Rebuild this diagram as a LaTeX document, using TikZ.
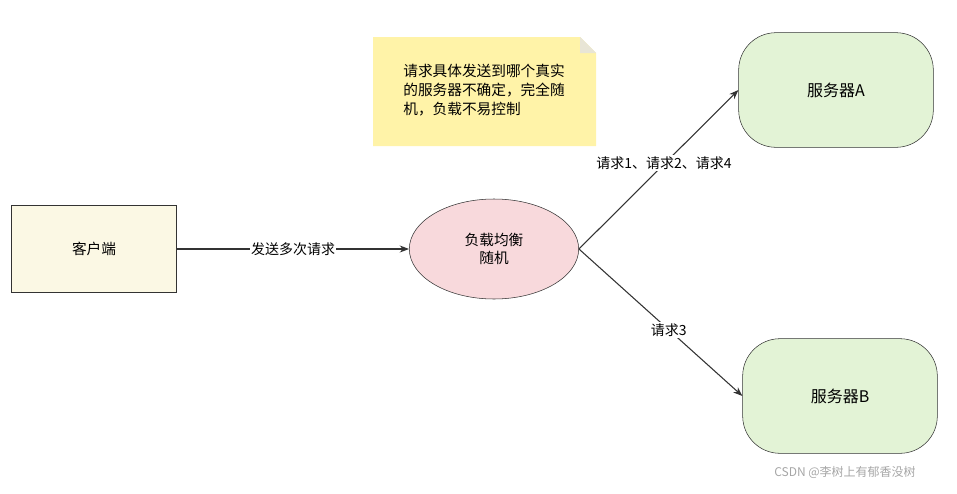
\documentclass[tikz,border=0pt]{standalone}
\usepackage{fontspec}
\setmainfont{Noto Sans CJK SC}
\usetikzlibrary{positioning,shapes.geometric,arrows.meta}
\definecolor{cream}{HTML}{FBF8E4}
\definecolor{pinkfill}{HTML}{F8D9DC}
\definecolor{greenfill}{HTML}{E3F3D6}
\definecolor{notefill}{HTML}{FFF3A8}
\begin{document}
\begin{tikzpicture}[x=0.75pt,y=-0.75pt,
    boxnode/.style={rectangle, draw=black!80, fill=cream, minimum width=124pt, minimum height=65pt, font=\fontsize{11}{14}\selectfont},
    lbnode/.style={ellipse, draw=black!80, fill=pinkfill, minimum width=127pt, minimum height=75pt, align=center, font=\fontsize{11}{14}\selectfont},
    servernode/.style={rectangle, rounded corners=28pt, draw=black!80, fill=greenfill, minimum width=146pt, minimum height=86pt, font=\large},
    edgelabel/.style={fill=white, inner sep=1pt, font=\fontsize{10.5}{13}\selectfont},
    link/.style={-{Stealth[length=7pt]}, draw=black!80, thick},
  ]
  \useasboundingbox (0,0) rectangle (957,493);
  % Nodes
  \node[boxnode]    (client) at (94,249)  {客户端};
  \node[lbnode]     (balancer) at (494,249) {负载均衡\\随机};
  \node[servernode] (serverA) at (836,90)  {服务器A};
  \node[servernode] (serverB) at (840,396) {服务器B};

  % Note
  \fill[notefill] (373,37) -- (580,37) -- (596,53) -- (596,146) -- (373,146) -- cycle;
  \fill[notefill!70!black!30] (580,37) -- (580,53) -- (596,53) -- cycle;
  \node[align=left, font=\fontsize{11}{14}\selectfont] (note) at (484,90) {请求具体发送到哪个真实\\的服务器不确定，完全随\\机，负载不易控制};

  % Lines
  \draw[link] (client.east) -- node[edgelabel] {发送多次请求} (balancer.west);
  \draw[link] (balancer.east) -- node[edgelabel, pos=0.5, xshift=4pt, yshift=5pt] {请求1、请求2、请求4} (serverA.west);
  \draw[link] (balancer.east) -- node[edgelabel, pos=0.55] {请求3} (serverB.west);

  \node[text=black!35, font=\small] (mark) at (845,472) {CSDN @李树上有郁香没树};
\end{tikzpicture}
\end{document}
